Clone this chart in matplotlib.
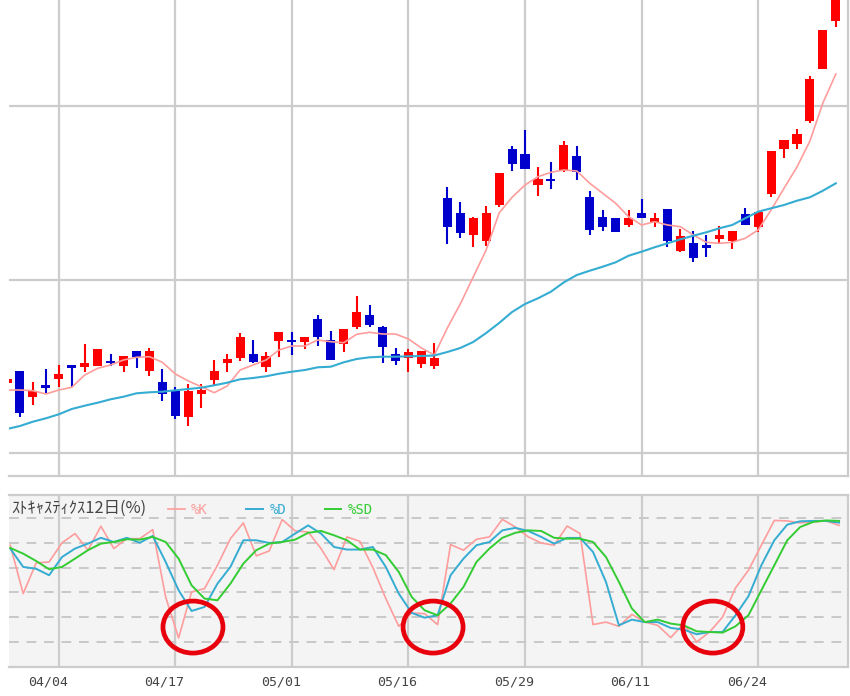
import numpy as np
import matplotlib
matplotlib.use("Agg")
import matplotlib.pyplot as plt
from matplotlib.patches import Ellipse
from matplotlib.transforms import ScaledTranslation

plt.rcParams['font.family'] = ['Noto Sans CJK JP', 'DejaVu Sans']

# candles, price units are arbitrary (no price labels in the picture)
opens = [92.7, 105, 78.7, 91, 97.3, 111.3, 108.7, 110, 114.7, 110, 125.3, 105.3, 94, 85, 58.7, 82, 96,
         113.3, 117.7, 122, 108.7, 135, 136.3, 133.7, 156.7, 136, 132, 149, 161.3, 148.7, 122, 118, 112, 110,
         278.3, 262.7, 241.3, 235.3, 270.7, 326.7, 322, 291.3, 297.3, 304.7, 320.3, 279.3, 259.3, 258.3, 250.7,
         262.7, 254, 267.3, 225.3, 232.7, 231, 236.7, 234.7, 262.3, 249, 282, 327.3, 332, 355, 407, 455]
closes = [97, 63.3, 85, 87.7, 102, 108.3, 112.7, 127, 112.7, 120.3, 119, 125.3, 82, 60, 85, 86, 105,
          117.3, 139.3, 114.3, 120, 144, 133.7, 139.3, 139.3, 116, 147, 164.3, 150.7, 129, 114.7, 123.7, 125, 118,
          249.3, 243.3, 258, 262.7, 303.3, 311.7, 307, 297.3, 294.7, 331.3, 304, 246, 249, 244.3, 257.7,
          258.3, 257.7, 235, 240.3, 218, 227.7, 240.7, 245.3, 250.7, 264.3, 325.3, 336, 342.3, 397, 446, 490]
highs = [97, 105, 94.3, 106.7, 111, 111.3, 131.7, 127, 122, 120.3, 125.3, 128.3, 106.7, 89.3, 92, 92, 116,
         122, 142.7, 136, 123.7, 144, 144, 139.3, 161, 145.3, 147, 180, 170.7, 150, 128.3, 126.7, 125, 133,
         289.3, 273.7, 259.3, 270.3, 303.3, 330, 346, 308.7, 314.3, 334.7, 330, 284.7, 266, 258.3, 266,
         277, 262.7, 267.3, 246.7, 245.3, 240.7, 250.3, 245.3, 267.7, 264.3, 325.3, 336, 347, 400, 446, 490]
lows = [92.7, 58.7, 71, 82.7, 89.3, 88.7, 104.3, 110, 110, 103.7, 108.3, 100.3, 75.3, 56.7, 50.3, 67.7, 90.3,
        103.7, 115, 112.7, 103.7, 119.3, 120.7, 127, 130.3, 116, 123.7, 147.3, 149.3, 113.3, 111.3, 103.7, 108.3, 107,
        231.7, 238, 228.7, 230.3, 269.3, 305, 306.7, 280, 286.7, 304, 296, 241, 245.3, 244.3, 249.3,
        258.3, 248.7, 228.7, 224, 214.3, 219.3, 232.7, 226.7, 250.7, 244.3, 278.7, 317.7, 327, 353, 407, 449]

ma_short = [86, 86, 85.3, 82, 86, 88.7, 101, 107.7, 111, 116, 118.7, 119.3, 113.7, 102, 95, 89.3, 83.3,
            90, 106, 111, 116, 126, 130, 130, 136, 134.3, 133.3, 141.7, 143.7, 142, 142, 137, 128, 121,
            148, 172, 199, 226, 263, 278.7, 291, 299.3, 303.7, 306, 305, 292.7, 282.7, 272.7, 259.3,
            251, 254.3, 251, 249.3, 241, 233.7, 232.7, 233.7, 237.7, 246, 266, 287.7, 309, 335, 373, 402]
ma_long = [47, 50, 54.3, 57.7, 61.7, 67, 70.3, 73.3, 76.7, 79.3, 82.7, 83.7, 84.3, 85.7, 87, 88.3, 90.7,
           93.3, 96.7, 98, 99.7, 102.3, 104.3, 106, 108.7, 109.3, 113.7, 117, 118.7, 119.3, 119.3, 119.7, 120, 120.5,
           124, 128, 134, 143, 153, 164, 172, 177.7, 184.3, 193.7, 201, 205.3, 209.3, 213.7, 220.3,
           224.3, 228.7, 232.7, 236.7, 240.3, 243.7, 247.7, 251, 257.7, 264.3, 267.7, 271, 275.3, 278.7, 285.3, 292.7]

# stochastics, percent
pct_k = [78, 39, 63.7, 64.5, 80, 87.4, 74, 93.3, 75.3, 83.3, 83.3, 90.6, 36.3, 3.2, 40.3, 43, 61.8,
         83.3, 96, 69.4, 73.4, 98.7, 89.5, 88.7, 75.3, 58.3, 84.7, 81.2, 60, 35, 12.6, 23.4, 22.8, 14,
         78.5, 74, 82.8, 84.7, 98.9, 92.7, 84.7, 79.8, 78, 93.5, 87.4, 14, 16, 12.6, 22.3,
         16, 13.4, 3.5, 14.8, 0, 8, 20, 43.5, 57.8, 78, 98, 97.6, 96, 96.8, 97.6, 94]
pct_d = [75.3, 60.5, 59, 53.8, 68.5, 75.3, 79.3, 84, 80.6, 84, 80, 85.5, 64.5, 41.7, 25, 28.2, 47,
         60.5, 82, 82, 79.8, 80.6, 87.4, 94, 87.4, 76.6, 74.5, 74.5, 76.6, 60.5, 39, 23.4, 19.6, 21.5,
         53.8, 67.2, 78, 80.6, 90, 92, 89.5, 84.7, 79.3, 83.9, 83.9, 72.6, 48.4, 13.4, 18,
         16, 16, 11.3, 10, 6.2, 8, 8, 21.5, 36.8, 61.8, 82, 94.6, 97.3, 97.6, 97.6, 96.2]
pct_sd = [75.8, 71.2, 65.3, 58.6, 60.5, 67.2, 74, 79.3, 80.6, 82.8, 82.5, 84.7, 80.6, 67.2, 45.7, 35, 33.6,
          47, 63.2, 74, 79.3, 80.6, 82.5, 88, 89.5, 86, 82, 74.5, 74.5, 70, 56.5, 36.3, 25.5, 21.5,
          31, 44.4, 64.5, 75.3, 84, 88, 90, 89.5, 84, 83.3, 83.3, 80.6, 68.5, 48.4, 27,
          16, 18, 14.8, 13.4, 8.6, 8, 7.5, 12.6, 21.5, 41.7, 61.8, 82, 92.7, 96.8, 98, 97.6]

date_ticks = [4, 13, 22, 31, 40, 49, 58]
date_labels = ['04/04', '04/17', '05/01', '05/16', '05/29', '06/11', '06/24']
price_grid = [23, 196, 370]
pct_grid = [0, 20, 40, 60, 80, 100]
# (candle position, percent) of the hand drawn circles
circle_x = [14.36, 32.9, 54.5]
circle_y = [12, 12, 12]

W, H = 850, 696
GRID = '#cccccc'
x = np.arange(len(opens))
opens = np.array(opens)
closes = np.array(closes)
xlim = (0.154, 64.94)

fig = plt.figure(figsize=(W / 100, H / 100), dpi=100, facecolor='white')
ax = fig.add_axes([9 / W, (H - 476) / H, 839 / W, 476 / H])
ax2 = fig.add_axes([9 / W, (H - 667) / H, 839 / W, 172 / H])

# price panel
ax.set_xlim(xlim)
ax.set_ylim(0, 476)
ax.set_axisbelow(True)
ax.set_xticks(date_ticks)
ax.set_yticks(price_grid)
ax.tick_params(length=0, labelbottom=False, labelleft=False)
ax.grid(True, color=GRID, linewidth=1.6)
for side in ['top', 'left']:
    ax.spines[side].set_visible(False)
for side in ['bottom', 'right']:
    ax.spines[side].set_color(GRID)
    ax.spines[side].set_linewidth(1.6)

colors = np.where(closes >= opens, '#ff0000', '#0000cc')
ax.vlines(x, lows, highs, colors=colors, linewidth=1.5, zorder=2)
ax.bar(x, np.abs(closes - opens), bottom=np.minimum(opens, closes), width=0.7, color=colors, zorder=3)
ax.plot(x, ma_short, color='#ff9c9c', linewidth=1.2, zorder=4)
ax.plot(x, ma_long, color='#35acd2', linewidth=1.5, zorder=4)

# stochastics panel
ax2.set_facecolor('#f4f4f4')
ax2.set_xlim(xlim)
ax2.set_ylim(-20.2, 118.5)
ax2.set_axisbelow(True)
ax2.set_xticks(date_ticks)
ax2.set_xticklabels(date_labels, family=['DejaVu Sans Mono'], fontsize=9.5, color='#444444')
ax2.set_yticks(pct_grid)
ax2.tick_params(length=0, labelleft=False, pad=6)
ax2.grid(True, axis='x', color=GRID, linewidth=1.6)
ax2.grid(True, axis='y', color='#c8c8c8', linewidth=1.4, linestyle=(0, (5, 4)))
ax2.spines['left'].set_visible(False)
for side in ['top', 'bottom', 'right']:
    ax2.spines[side].set_color(GRID)
    ax2.spines[side].set_linewidth(1.6)

# date labels sit left of their grid line
shift = ScaledTranslation(-11 / 100, 0, fig.dpi_scale_trans)
for lab in ax2.get_xticklabels():
    lab.set_transform(lab.get_transform() + shift)

# stochastic points sit a bit right of the candles
sx = x + 0.25
l_k, = ax2.plot(sx, pct_k, color='#ff9c9c', linewidth=1.2, label='%K', zorder=3)
l_d, = ax2.plot(sx, pct_d, color='#35acd2', linewidth=1.4, label='%D', zorder=4)
l_sd, = ax2.plot(sx, pct_sd, color='#33cc33', linewidth=1.4, label='%SD', zorder=5)

ax2.text(2 / 839, 0.925, 'ｽﾄｷｬｽﾃｨｸｽ12日(%)', transform=ax2.transAxes, fontsize=11.8,
         color='#444444', va='center', ha='left')
ax2.legend(handles=[l_k, l_d, l_sd], loc='upper left', bbox_to_anchor=(0.178, 1.008), ncol=3, frameon=False,
           handlelength=1.2, handletextpad=0.45, columnspacing=2.78, labelcolor='linecolor',
           prop={'family': 'DejaVu Sans Mono', 'size': 10}, borderpad=0.2)

for cx, cy in zip(circle_x, circle_y):
    ax2.add_patch(Ellipse((cx, cy), 60 / 12.95, 52 / 1.24, facecolor='none', edgecolor='#e8000c',
                          linewidth=3.4, zorder=6, clip_on=False))

fig.savefig('out.png', dpi=100, facecolor='white')
